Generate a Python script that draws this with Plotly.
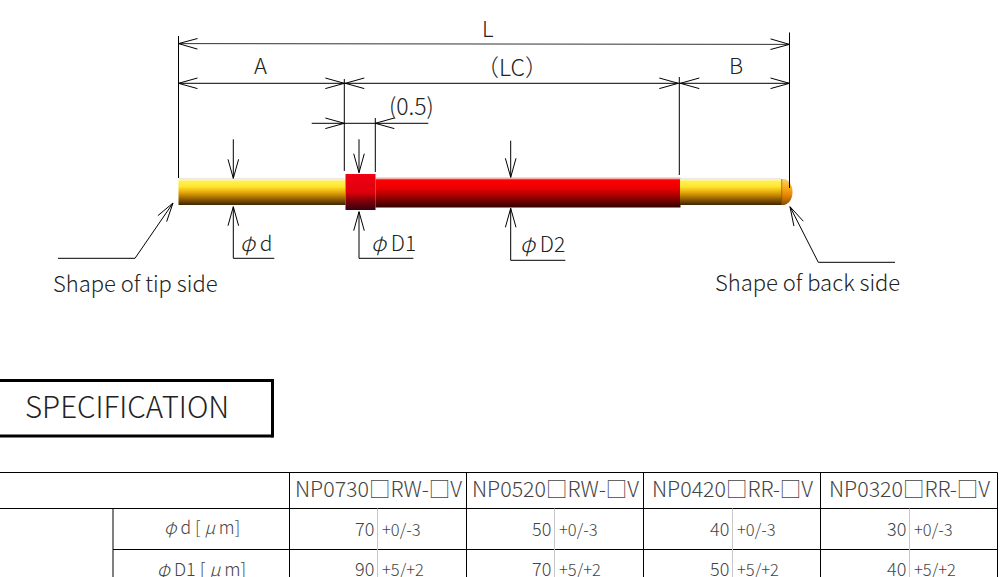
import plotly.graph_objects as go

# spec table contents
models = ["NP0730□RW-□V", "NP0520□RW-□V", "NP0420□RR-□V", "NP0320□RR-□V"]
row_labels = ["<i>φ</i> d [ <i>μ</i> m]", "<i>φ</i> D1 [ <i>μ</i> m]"]
d_values = [70, 50, 40, 30]
d_tolerance = ["+0/-3", "+0/-3", "+0/-3", "+0/-3"]
d1_values = [90, 70, 50, 40]
d1_tolerance = ["+5/+2", "+5/+2", "+5/+2", "+5/+2"]

# colour stops of the pin sections, top to bottom
yellow_stops = [[0, "#fff4c0"], [0.08, "#fff050"], [0.28, "#ffe632"], [0.45, "#f0b814"], [0.62, "#c88c00"], [0.8, "#8c5a00"], [1, "#462800"]]
red_stops = [[0, "#f0b0b0"], [0.05, "#ff0000"], [0.35, "#e80000"], [0.65, "#960000"], [1, "#300000"]]
collar_stops = [[0, "#f00014"], [0.5, "#e0000c"], [0.75, "#800008"], [1, "#3a0010"]]
cap_stops = [[0, "#f5d070"], [0.3, "#fcb020"], [0.65, "#e68200"], [1, "#8c5000"]]

FONT = "Noto Sans CJK JP"
INK = "#222222"
CELL_INK = "#444444"

fig = go.Figure()
shapes = []
notes = []


def line(x0, y0, x1, y1, color="black", width=1):
    shapes.append(dict(type="line", x0=x0, y0=y0, x1=x1, y1=y1, xref="x", yref="y",
                       line=dict(color=color, width=width)))


def arrow(tip_x, tip_y, from_x, from_y, size=19, half=5.3, shaft=True):
    # open drafting arrow head, optional shaft back to from_x/from_y
    dx, dy = from_x - tip_x, from_y - tip_y
    n = (dx * dx + dy * dy) ** 0.5
    ux, uy = dx / n, dy / n
    bx, by = tip_x + ux * size, tip_y + uy * size
    line(bx - uy * half, by + ux * half, tip_x, tip_y)
    line(bx + uy * half, by - ux * half, tip_x, tip_y)
    if shaft:
        line(tip_x, tip_y, from_x, from_y)


def text(x, y, s, size=21, color=INK, anchor="center"):
    notes.append(dict(x=x, y=y, text=s, xref="x", yref="y", showarrow=False, xanchor=anchor, yanchor="middle",
                      font=dict(family=FONT, size=size, color=color, weight=300)))


def gradient(x0, x1, y0, y1, stops):
    rows = int(round(y1 - y0))
    step = (y1 - y0) / rows
    fig.add_trace(go.Heatmap(x=[x0, x1], y=[y0 + step * i for i in range(rows + 1)], z=[[i] for i in range(rows)],
                             colorscale=stops, showscale=False, hoverinfo="skip"))


# pin body
gradient(178.5, 345.5, 179, 205, yellow_stops)
gradient(375.5, 680, 177.5, 207, red_stops)
gradient(680, 782, 179, 205, yellow_stops)
gradient(345.5, 375.5, 174, 210, collar_stops)
gradient(782, 792.5, 179, 205, cap_stops)

# round the back end by masking the corners with white
shapes.append(dict(type="path", xref="x", yref="y", fillcolor="white", line=dict(width=0),
                   path="M 782 178 L 794 178 L 794 192 L 792.5 192 C 792.5 185 789 179 782 178.6 Z"))
shapes.append(dict(type="path", xref="x", yref="y", fillcolor="white", line=dict(width=0),
                   path="M 782 206 L 794 206 L 794 192 L 792.5 192 C 792.5 199 789 205 782 205.4 Z"))
line(781.7, 179, 781.7, 205, color="#7a5a10", width=0.7)
line(178.5, 178.7, 345, 178.7, color="#d8d4c0", width=0.6)
line(680, 178.7, 781, 178.7, color="#d8d4c0", width=0.6)

# extension lines
line(178.5, 36, 178.5, 178)
line(789.5, 32.5, 789.5, 188)
line(344.3, 79, 344.3, 171)
line(375.3, 118, 375.3, 172)
line(679.3, 77, 679.3, 175)

# L
line(178.5, 43.6, 789.5, 44.4, color="#333333")
arrow(178.5, 43.6, 197.5, 43.8, shaft=False)
arrow(789.5, 44.4, 770.5, 44.2, shaft=False)
text(487, 27, "L", size=22)

# A, (LC), B
line(178.5, 83.3, 789.5, 83.3)
arrow(178.5, 83.3, 197.5, 83.3, shaft=False)
arrow(344.3, 83.3, 325.3, 83.3, shaft=False)
arrow(345.3, 83.3, 364.3, 83.3, shaft=False)
arrow(678.3, 83.3, 659.3, 83.3, shaft=False)
arrow(680.3, 83.3, 699.3, 83.3, shaft=False)
arrow(789.5, 83.3, 770.5, 83.3, shaft=False)
text(260.5, 64, "A", size=22)
text(512, 66, "（LC）", size=23)
text(736, 64, "B", size=22)

# (0.5)
arrow(344.3, 123.3, 311.7, 123.3)
arrow(375.3, 123.3, 428.3, 123.3)
line(344.3, 123.3, 375.3, 123.3)
text(411, 105, "(0.5)", size=23)

# diameter callouts
arrow(233.3, 178.3, 233.3, 139.3)
arrow(233.3, 206.7, 233.3, 258.3)
line(233.3, 258.3, 274.3, 258.3)
text(256.5, 241.5, "<i>φ</i> d")

arrow(359, 172.7, 359, 139.3)
arrow(359, 211.7, 359, 258.3)
line(359, 258.3, 413.3, 258.3)
text(393.5, 241.5, "<i>φ</i> D1")

arrow(510.7, 177.3, 510.7, 140.7)
arrow(510.7, 208.3, 510.7, 260.3)
line(510.7, 260.3, 565.3, 260.3)
text(542.5, 243, "<i>φ</i> D2")

# leaders
arrow(173, 203, 135, 258.3)
line(135, 258.3, 58, 258.3)
text(135, 281.5, "Shape of tip side", size=22)

arrow(790, 206.7, 818.3, 262.3)
line(818.3, 262.3, 895, 262.3)
text(807.5, 280.5, "Shape of back side", size=22)

# SPECIFICATION box
line(-2, 380.5, 273, 380.5, width=3)
line(-2, 436, 273, 436, width=3)
line(272.5, 379, 272.5, 437.5, width=3)
text(127, 405, "SPECIFICATION", size=29.5)

# table
col_edges = [289.5, 466.5, 643.5, 820.5, 997.5]
col_split = [377.5, 554.5, 732.5, 909.5]
line(0, 472.5, 997.5, 472.5)
line(0, 508.5, 997.5, 508.5)
line(113, 549.5, 997.5, 549.5)
line(113, 508.5, 113, 577)
for x in col_edges:
    line(x, 472.5, x, 577)
for x in col_split:
    line(x, 508.5, x, 577, color="#c8c8c8")

for i, name in enumerate(models):
    text((col_edges[i] + col_edges[i + 1]) / 2, 487.5, name, size=21.4, color=CELL_INK)
    text(col_split[i] - 2, 527.5, str(d_values[i]), size=18, color=CELL_INK, anchor="right")
    text(col_split[i] + 2.5, 529, d_tolerance[i], size=16.5, color=CELL_INK, anchor="left")
    text(col_split[i] - 2, 568, str(d1_values[i]), size=18, color=CELL_INK, anchor="right")
    text(col_split[i] + 2.5, 569, d1_tolerance[i], size=16.5, color=CELL_INK, anchor="left")
text(202, 526.5, row_labels[0], size=17.5, color=CELL_INK)
text(201.5, 567.5, row_labels[1], size=18, color=CELL_INK)

fig.update_layout(width=1001, height=577, margin=dict(l=0, r=0, t=0, b=0), plot_bgcolor="white", paper_bgcolor="white",
                  showlegend=False, shapes=shapes, annotations=notes,
                  xaxis=dict(range=[0, 1001], visible=False, fixedrange=True),
                  yaxis=dict(range=[577, 0], visible=False, fixedrange=True))

fig.write_html("out.html", config={"displayModeBar": False},
               post_script="document.body.style.margin='0';document.documentElement.style.overflow='hidden';")
